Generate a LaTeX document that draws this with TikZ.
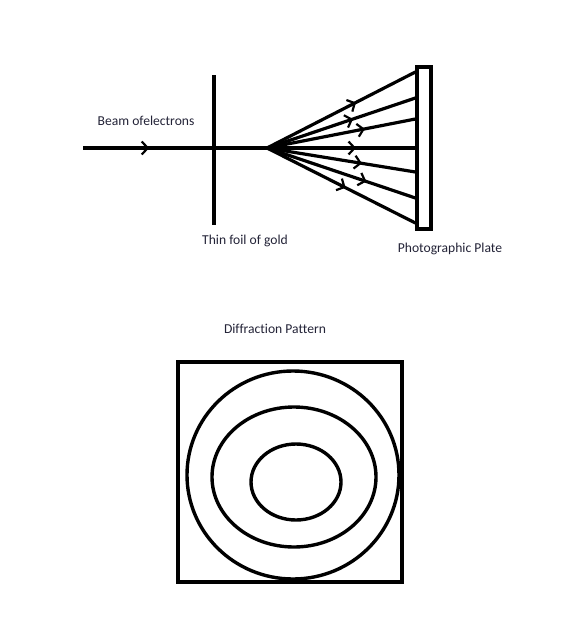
\documentclass[tikz,border=0pt]{standalone}
\usepackage{fontspec}
\setmainfont{Carlito}[Ligatures=NoCommon]
\usepackage{tikz}
\usetikzlibrary{positioning}
\usetikzlibrary{calc}
\usetikzlibrary{arrows.meta}
\usetikzlibrary{decorations.markings}
\definecolor{labelgray}{RGB}{35,35,55}
\tikzset{%
  ray/.style = {line width=3.2pt},
  rayarrow/.style = {ray,postaction={decorate},
        decoration={markings,mark=at position #1 with
          {\arrow[line width=2.2pt]{Straight Barb[length=6pt,width=13pt]}}}},
  plate/.style = {rectangle,draw,line width=3.2pt,minimum width=14pt,
        minimum height=162pt,inner sep=0pt},
  screen/.style = {rectangle,draw,line width=3.8pt,minimum width=224pt,
        minimum height=220pt,inner sep=0pt},
  ring/.style = {line width=3.4pt},
  lbl/.style = {font=\fontsize{13.6}{16}\selectfont,text=labelgray,inner sep=0pt}
}

\begin{document}
\begin{tikzpicture}[x=1pt,y=-1pt]
        \useasboundingbox (0,0) rectangle (570,640);

        % beam, foil and plate
        \coordinate (start) at (83,148);
        \coordinate (apex) at (267,148);
        \coordinate (foil-top) at (214,75);
        \coordinate (foil-bottom) at (214,225);
        \node[plate] (plate) at (424,148) {};

        \node[lbl] (beam-label) at (146,121) {Beam ofelectrons};
        \node[lbl] (foil-label) at (245,241) {Thin foil of gold};
        \node[lbl] (plate-label) at (450,249) {Photographic Plate};

        \draw[rayarrow=0.36] (start) -- (apex);
        \draw[ray] (foil-top) -- (foil-bottom);

        % scattered rays
        \foreach \y/\p [count=\i] in {72/0.6, 98/0.58, 119/0.66, 148/0.6, 172/0.64, 198/0.67, 223/0.53} {
            \coordinate (hit-\i) at (plate.west |- 0,\y);
            \draw[rayarrow=\p] (apex) -- (hit-\i);
        }

        % diffraction pattern
        \node[lbl] (pattern-label) at (275,329) {Diffraction Pattern};
        \node[screen] (screen) at (290,472) {};
        \draw[ring] (293,475) ellipse [x radius=106pt, y radius=104pt];
        \draw[ring] (294,477) ellipse [x radius=82pt, y radius=70pt];
        \draw[ring] (296,482) ellipse [x radius=45pt, y radius=38pt];

    \end{tikzpicture}
\end{document}
